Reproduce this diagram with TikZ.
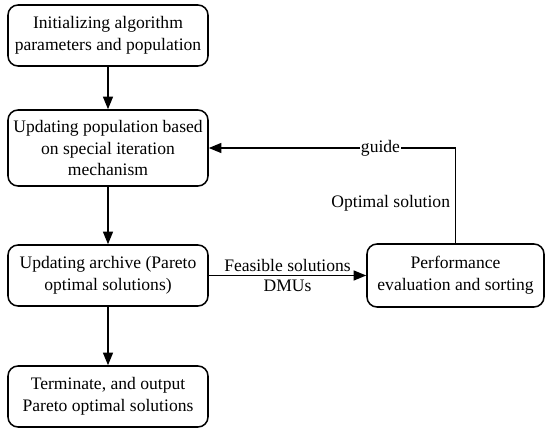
\documentclass[tikz,border=0pt]{standalone}
\usepackage{fontspec}
\setmainfont{Liberation Serif}
\usetikzlibrary{arrows.meta}

\begin{document}
\begin{tikzpicture}[
    box/.style = {draw, line width=1.3pt, rounded corners=0.3cm, align=center,
                  minimum width=6cm, minimum height=1.83cm, inner sep=2pt,
                  font=\fontsize{15}{18.5}\selectfont},
    arr/.style = {-{Triangle[length=0.38cm,width=0.3cm]}, line width=1.3pt},
    lbl/.style = {font=\fontsize{15}{18.5}\selectfont}
  ]
  \useasboundingbox (0,0) rectangle (16.5,12.93);

  \node[box] (init) at (3.24,11.865) {Initializing algorithm\\parameters and population};
  \node[box, minimum height=2.28cm] (update) at (3.24,8.49) {Updating population based\\on special iteration\\mechanism};
  \node[box] (archive) at (3.24,4.665) {Updating archive (Pareto\\optimal solutions)};
  \node[box] (output) at (3.24,1.035) {Terminate, and output\\Pareto optimal solutions};
  \node[box, minimum width=5.31cm, minimum height=1.89cm] (perf) at (13.665,4.665) {Performance\\evaluation and sorting};

  \draw[arr] (init) -- (update);
  \draw[arr] (update) -- (archive);
  \draw[arr] (archive) -- (output);
  \draw[arr] (archive) -- (perf)
    node[lbl, midway, above, inner sep=3pt] {Feasible solutions}
    node[lbl, midway, below, inner sep=3pt] {DMUs};
  \draw[arr] (perf.north) |- (update.east)
    node[lbl, pos=0.21, left, inner sep=4pt] {Optimal solution}
    node[lbl, pos=0.652, fill=white, inner sep=1pt] {guide};
\end{tikzpicture}
\end{document}
